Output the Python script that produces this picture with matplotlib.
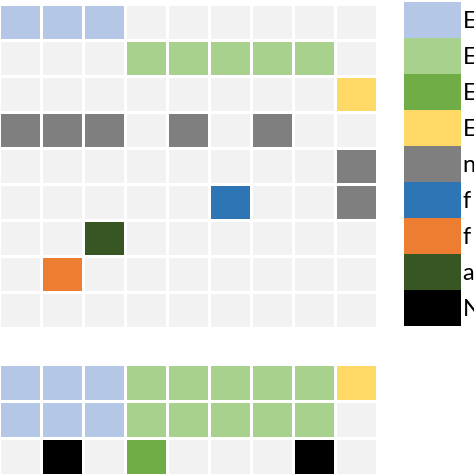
import numpy as np
import matplotlib
matplotlib.use("Agg")
from matplotlib import pyplot as plt
from matplotlib.colors import ListedColormap

# categorias da legenda (so a primeira letra aparece na imagem)
labels = ["Early", "Expected", "Extra", "Exclusive", "neutral",
          "f open", "f closed", "absent", "None"]
cores = ["#b4c7e7", "#a9d18e", "#70ad47", "#ffd966", "#7f7f7f",
         "#2e75b6", "#ed7d31", "#375623", "#000000"]
vazio = "#f2f2f2"

# -1 = celula vazia, senao indice da categoria
grade_topo = [
    [0, 0, 0, -1, -1, -1, -1, -1, -1],
    [-1, -1, -1, 1, 1, 1, 1, 1, -1],
    [-1, -1, -1, -1, -1, -1, -1, -1, 3],
    [4, 4, 4, -1, 4, -1, 4, -1, -1],
    [-1, -1, -1, -1, -1, -1, -1, -1, 4],
    [-1, -1, -1, -1, -1, 5, -1, -1, 4],
    [-1, -1, 7, -1, -1, -1, -1, -1, -1],
    [-1, 6, -1, -1, -1, -1, -1, -1, -1],
    [-1, -1, -1, -1, -1, -1, -1, -1, -1],
]
grade_baixo = [
    [0, 0, 0, 1, 1, 1, 1, 1, 3],
    [0, 0, 0, 1, 1, 1, 1, 1, -1],
    [-1, 8, -1, 2, -1, -1, -1, 8, -1],
]

cmap = ListedColormap([vazio] + cores)
W = H = 474.0

fig = plt.figure(figsize=(4.74, 4.74), dpi=100)


def desenha(ax, grade):
    dados = np.array(grade) + 1
    ax.pcolormesh(dados, cmap=cmap, vmin=0, vmax=len(cores),
                  edgecolors="white", linewidth=1.8)
    ax.set_xlim(0, dados.shape[1])
    ax.set_ylim(dados.shape[0], 0)
    ax.axis("off")


ax1 = fig.add_axes([-1.5 / W, (H - 328.5) / H, 379 / W, 325 / H])
desenha(ax1, grade_topo)

ax2 = fig.add_axes([-1.5 / W, -1 / H, 379 / W, 111 / H])
desenha(ax2, grade_baixo)

# legenda feita a mao com quadrados de cor
ax3 = fig.add_axes([404 / W, (H - 326) / H, 57 / W, 324 / H])
idx = np.arange(len(cores)).reshape(-1, 1)
ax3.imshow(idx, cmap=ListedColormap(cores), aspect="auto",
           extent=(0, 1, len(cores), 0))
for i, lab in enumerate(labels):
    ax3.text(1.03, i + 0.55, lab, fontsize=17, family="Lato",
             va="center", ha="left", clip_on=False)
ax3.set_xlim(0, 1)
ax3.set_ylim(len(cores), 0)
ax3.axis("off")

fig.savefig("out.png", dpi=100)
